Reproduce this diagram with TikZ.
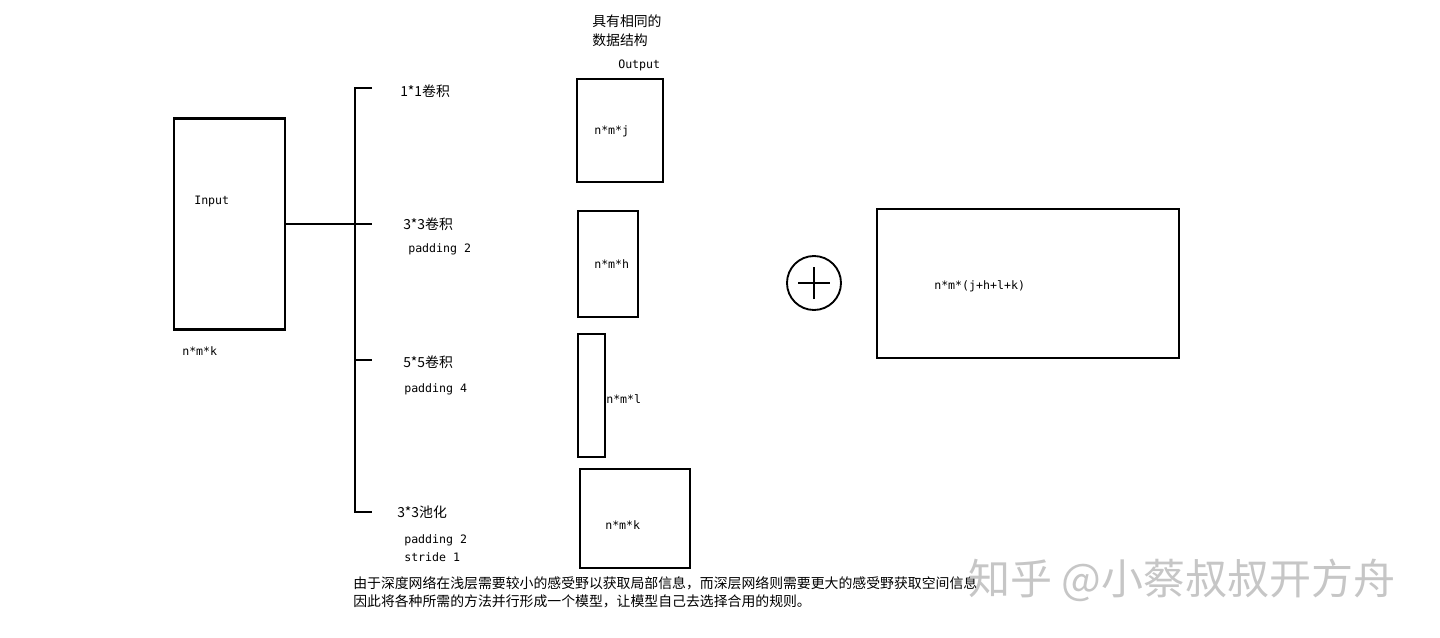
\documentclass[tikz,border=0pt]{standalone}
\usepackage{fontspec}
\setmainfont{DejaVu Sans}
\newfontfamily\cjk{Noto Sans CJK SC}
\newfontfamily\monofont{DejaVu Sans Mono}
\begin{document}
\begin{tikzpicture}[x=0.75pt,y=-0.75pt,
  box/.style={draw,line width=1.7pt,inner sep=0pt},
  lbl/.style={anchor=west,inner sep=0pt,font=\cjk\fontsize{10.4}{12}\selectfont},
  mono/.style={anchor=west,inner sep=0pt,font=\monofont\fontsize{8.7}{10}\selectfont},
  wire/.style={line width=1.7pt}]
\useasboundingbox (0,0) rectangle (1440,637);
% input
\node[box,minimum width=83.25pt,minimum height=158.25pt] (in) at (229.5,224) {};
\node[mono] (intxt) at (194,201) {Input};
\node[mono] (inkl) at (182,351) {n*m*k};
% bus
\coordinate (b1) at (355,88);
\coordinate (b4) at (355,512);
\coordinate (t1) at (372,88);
\coordinate (b2) at (355,224);
\coordinate (t2) at (372,224);
\coordinate (b3) at (355,360);
\coordinate (t3) at (372,360);
\coordinate (t4) at (372,512);
\draw[wire] (t1) -- (b1) -- (b4) -- (t4);
\draw[wire] (in.east) -- (t2);
\draw[wire] (b3) -- (t3);
% branch labels
\node[lbl] (l1) at (400,91) {1*1卷积};
\node[lbl] (l2) at (403,224) {3*3卷积};
\node[mono] (p2) at (408,249) {padding 2};
\node[lbl] (l3) at (403,362) {5*5卷积};
\node[mono] (p4) at (404,389) {padding 4};
\node[lbl] (l4) at (397,512) {3*3池化};
\node[mono] (pp) at (404,540) {padding 2};
\node[mono] (ps) at (404,557) {stride 1};
% top notes
\node[lbl] (n1) at (592,21) {具有相同的};
\node[lbl] (n2) at (592,40) {数据结构};
\node[mono] (out) at (618,65) {Output};
% output boxes
\node[box,minimum width=64.5pt,minimum height=77.25pt] (bj) at (620,130.5) {};
\node[mono] at (594,131) {n*m*j};
\node[box,minimum width=45pt,minimum height=79.5pt] (bh) at (608,264) {};
\node[mono] at (594,264) {n*m*h};
\node[box,minimum width=20.25pt,minimum height=92.25pt] (bl) at (591.5,395.5) {};
\node[mono] at (606,399) {n*m*l};
\node[box,minimum width=82.5pt,minimum height=74.25pt] (bk) at (635,518.5) {};
\node[mono] at (605,525) {n*m*k};
% concat
\node[draw,circle,line width=1.4pt,minimum size=40.5pt,inner sep=0pt] (plus) at (814,283) {};
\draw[line width=1.4pt] ([xshift=-12pt]plus.center) -- ([xshift=12pt]plus.center);
\draw[line width=1.4pt] ([yshift=-12pt]plus.center) -- ([yshift=12pt]plus.center);
\node[box,minimum width=226.5pt,minimum height=111.75pt] (big) at (1028,283.5) {};
\node[mono] at (934,286) {n*m*(j+h+l+k)};
% bottom text
\node[lbl] (c1) at (353,583) {由于深度网络在浅层需要较小的感受野以获取局部信息，而深层网络则需要更大的感受野获取空间信息};
\node[lbl] (c2) at (353,601) {因此将各种所需的方法并行形成一个模型，让模型自己去选择合用的规则。};
% watermark
\node[anchor=west,inner sep=0pt,text=gray!45,font=\cjk\fontsize{31.5}{33}\selectfont] (wm) at (968,580) {知乎 @小蔡叔叔开方舟};
\end{tikzpicture}
\end{document}
